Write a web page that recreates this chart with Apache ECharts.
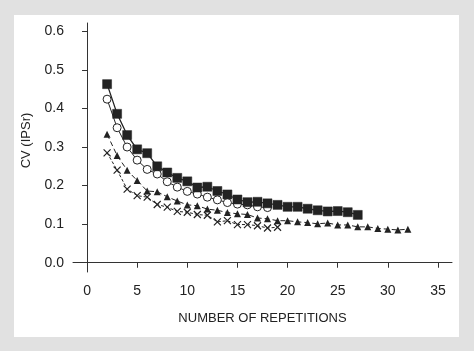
<!DOCTYPE html>
<html>
<head>
<meta charset="utf-8">
<script src="https://cdn.jsdelivr.net/npm/echarts@6/dist/echarts.min.js"></script>
<style>
html,body{margin:0;padding:0;background:#e1e1e1;}
#c{width:474px;height:351px;}
</style>
</head>
<body>
<div id="c"></div>
<script>
var xTicks = [0, 5, 10, 15, 20, 25, 30, 35];
var yTicks = [0, 0.1, 0.2, 0.3, 0.4, 0.5, 0.6];

var squaresX = [2,3,4,5,6,7,8,9,10,11,12,13,14,15,16,17,18,19,20,21,22,23,24,25,26,27];
var squaresY = [0.463,0.386,0.331,0.294,0.284,0.250,0.234,0.220,0.211,0.195,0.197,0.186,0.177,0.164,0.157,0.158,0.154,0.150,0.145,0.145,0.140,0.136,0.133,0.134,0.131,0.124];

var circlesX = [2,3,4,5,6,7,8,9,10,11,12,13,14,15,16,17,18];
var circlesY = [0.424,0.350,0.300,0.266,0.242,0.230,0.210,0.196,0.185,0.178,0.170,0.163,0.156,0.152,0.150,0.145,0.143];

var trianglesX = [2,3,4,5,6,7,8,9,10,11,12,13,14,15,16,17,18,19,20,21,22,23,24,25,26,27,28,29,30,31,32];
var trianglesY = [0.333,0.278,0.240,0.213,0.186,0.184,0.171,0.160,0.150,0.148,0.139,0.136,0.130,0.127,0.125,0.116,0.114,0.109,0.109,0.106,0.104,0.101,0.103,0.098,0.098,0.093,0.093,0.089,0.087,0.085,0.087];

var crossesX = [2,3,4,5,6,7,8,9,10,11,12,13,14,15,16,17,18,19];
var crossesY = [0.285,0.240,0.191,0.174,0.170,0.151,0.144,0.133,0.131,0.125,0.123,0.106,0.109,0.099,0.099,0.096,0.090,0.092];

function pairs(xs, ys){ return xs.map(function(x,i){ return [x, ys[i]]; }); }

var ink = '#222';
var font = 'Liberation Sans, Arial, sans-serif';

var chart = echarts.init(document.getElementById('c'), null, {renderer:'canvas'});
chart.setOption({
  animation: false,
  backgroundColor: '#e1e1e1',
  graphic: [{
    type: 'rect', z: -10, silent: true,
    shape: {x: 14, y: 15, width: 445, height: 322},
    style: {fill: '#ffffff'}
  }],
  grid: {left: 73, right: 22, top: 23, bottom: 79, containLabel: false},
  xAxis: {
    type: 'value', min: -1.4, max: 36.4,
    name: 'NUMBER OF REPETITIONS', nameLocation: 'middle', nameGap: 40,
    nameTextStyle: {color: ink, fontSize: 13, fontFamily: font},
    axisLine: {show: true, lineStyle: {color: '#333', width: 1}},
    axisTick: {show: true, length: 5, lineStyle: {color: '#333'}, customValues: xTicks},
    axisLabel: {color: ink, fontSize: 14, fontFamily: font, margin: 12, customValues: xTicks},
    splitLine: {show: false}
  },
  yAxis: {
    type: 'value', min: -0.024, max: 0.6215,
    name: 'CV (IPSr)', nameLocation: 'middle', nameGap: 40,
    nameTextStyle: {color: ink, fontSize: 13, fontFamily: font, padding: [0, 0, 0, 14]},
    axisLine: {show: true, lineStyle: {color: '#333', width: 1}},
    axisTick: {show: true, length: 5, lineStyle: {color: '#333'}, customValues: yTicks},
    axisLabel: {color: ink, fontSize: 14, fontFamily: font, margin: 9, customValues: yTicks,
      formatter: function(v){ return v.toFixed(1); }},
    splitLine: {show: false}
  },
  series: [
    {
      type: 'line', data: pairs(trianglesX, trianglesY),
      symbol: 'triangle', symbolSize: 7,
      itemStyle: {color: ink},
      lineStyle: {color: ink, width: 1, type: [5, 3]}
    },
    {
      type: 'line', data: pairs(crossesX, crossesY),
      symbol: 'path://M0,0L10,10M10,0L0,10', symbolSize: 7,
      itemStyle: {color: 'none', borderColor: ink, borderWidth: 1.2},
      lineStyle: {color: ink, width: 1, type: [3, 2]}
    },
    {
      type: 'line', data: pairs(circlesX, circlesY),
      symbol: 'circle', symbolSize: 8,
      itemStyle: {color: '#fff', borderColor: ink, borderWidth: 1},
      lineStyle: {color: ink, width: 1}
    },
    {
      type: 'line', data: pairs(squaresX, squaresY),
      symbol: 'rect', symbolSize: 9,
      itemStyle: {color: ink, borderColor: ink, borderWidth: 0.5},
      lineStyle: {color: ink, width: 1.3}
    }
  ]
});
</script>
</body>
</html>
